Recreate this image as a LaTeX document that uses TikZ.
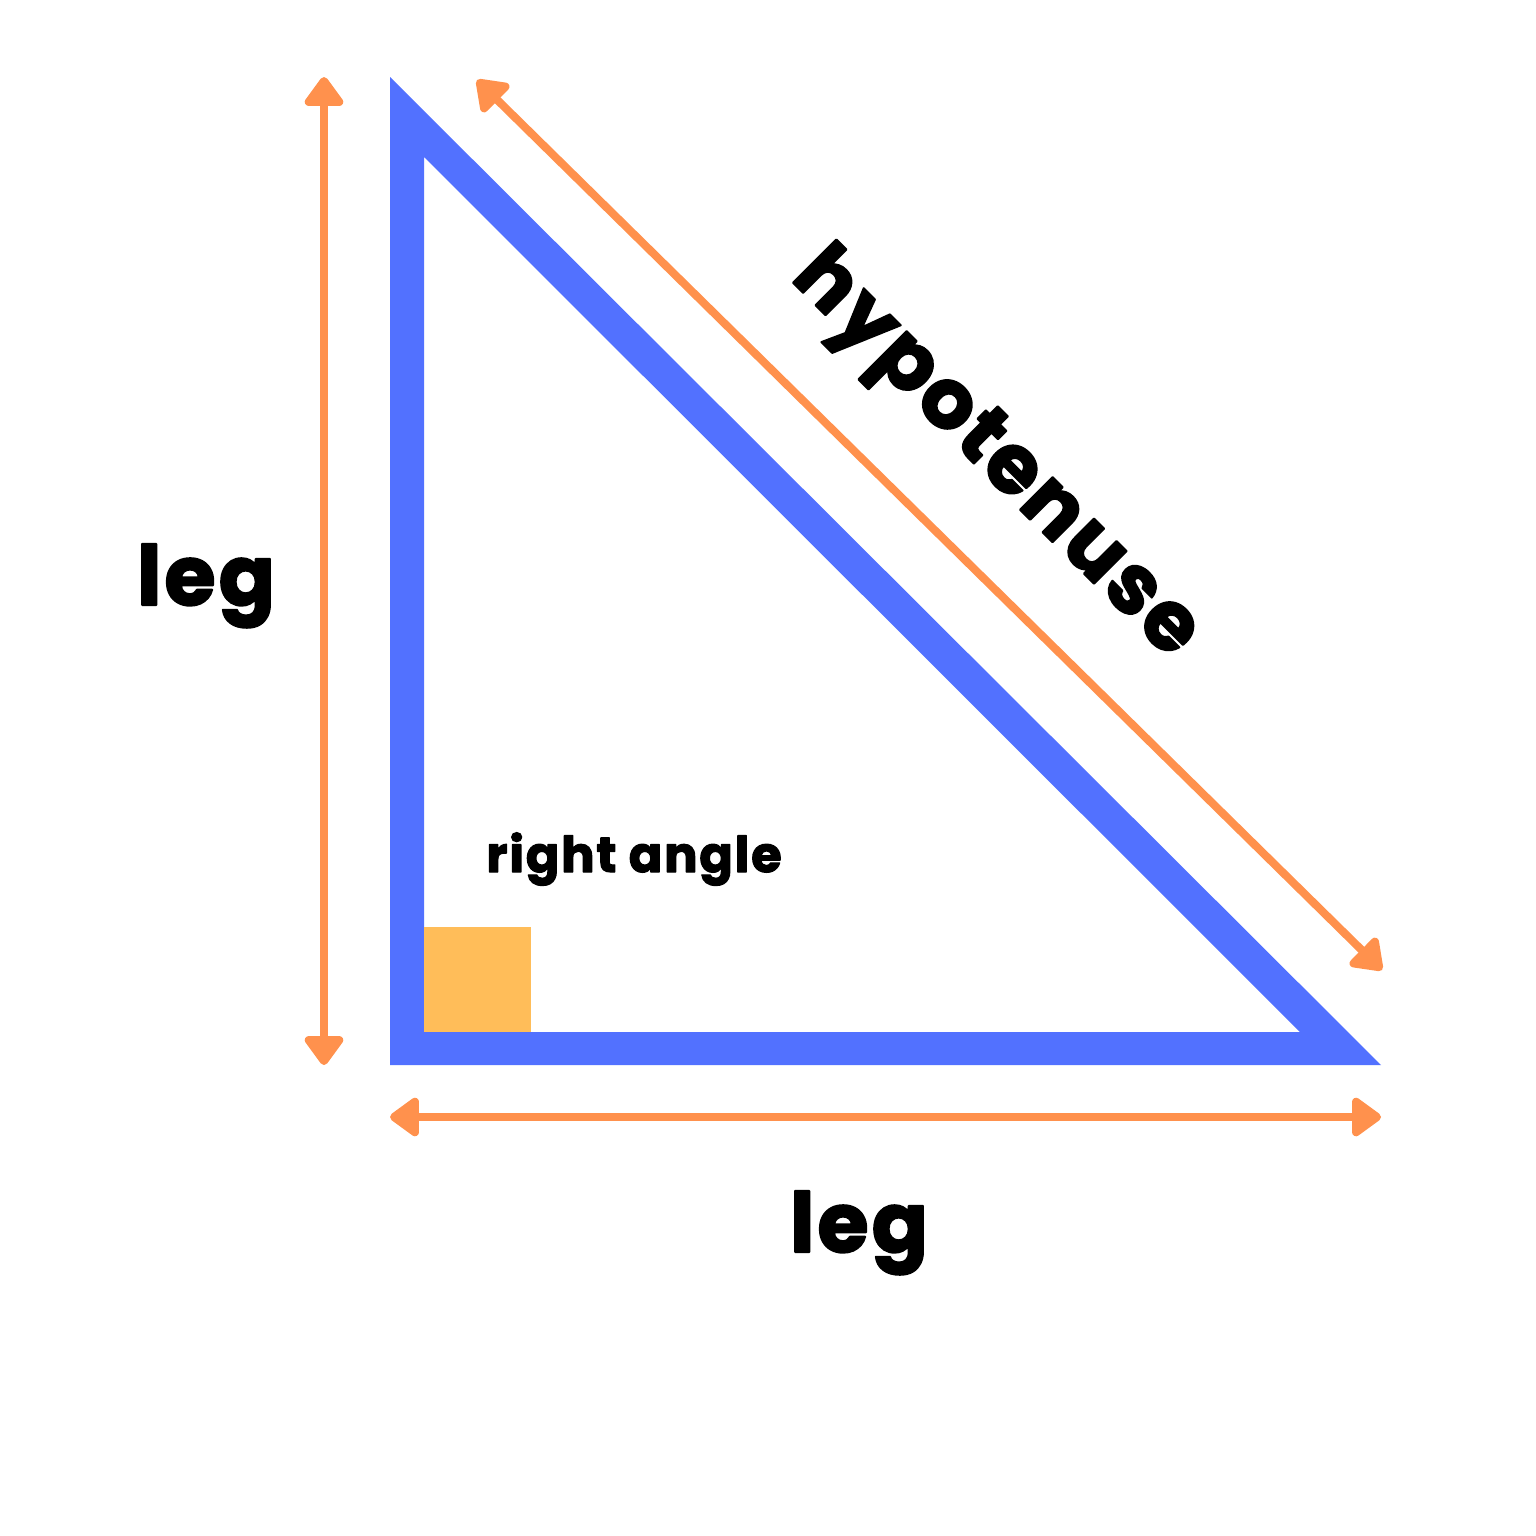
\documentclass[tikz,border=0pt]{standalone}
\usepackage{fontspec}
\setmainfont{Poppins}[BoldFeatures={FakeBold=2.5,LetterSpace=4}]
\usetikzlibrary{arrows.meta}
\definecolor{triblue}{HTML}{5271FF}
\definecolor{arrorange}{HTML}{FF914D}
\definecolor{sqyellow}{HTML}{FFBD59}
\newcommand{\roundjoin}{\special{pdf:literal 1 j}}
\tikzset{
  dimtip/.tip={Triangle[round,length=0.32cm,width=0.44cm,line width=0.08cm]},
  dim/.style={draw=arrorange, line width=0.08cm, dimtip-dimtip},
  biglabel/.style={font=\bfseries\fontsize{23.5}{30}\selectfont\roundjoin, inner sep=0pt},
  smalllabel/.style={font=\bfseries\fontsize{14}{18}\selectfont\roundjoin, inner sep=0pt}
}
\begin{document}
\begin{tikzpicture}[x=0.01cm,y=-0.01cm]
\useasboundingbox (0,0) rectangle (1536,1536);
\fill[white] (0,0) rectangle (1536,1536);
% triangle
\coordinate (A) at (390,77);
\coordinate (B) at (390,1065);
\coordinate (C) at (1381,1065);
\fill[triblue, even odd rule] (A) -- (B) -- (C) -- cycle
  (424,157) -- (424,1032) -- (1300,1032) -- cycle;
% right angle square
\fill[sqyellow] (424,927) rectangle (531,1032);
% arrow end points
\coordinate (v1) at (324,77);
\coordinate (v2) at (324,1065);
\coordinate (h1) at (390,1117);
\coordinate (h2) at (1381,1117);
\coordinate (d1) at (477,80);
\coordinate (d2) at (1382,970);
\draw[dim] (v1) -- (v2);
\draw[dim] (h1) -- (h2);
\draw[dim] (d1) -- (d2);
% labels
\node[biglabel, anchor=base] (legL) at (206,605) {leg};
\node[biglabel, anchor=base] (legB) at (859,1252) {leg};
\node[smalllabel, anchor=base] (ra) at (634,872) {right angle};
\node[biglabel, rotate=-45] (hyp) at (994,456) {hypotenuse};
\end{tikzpicture}
\end{document}
